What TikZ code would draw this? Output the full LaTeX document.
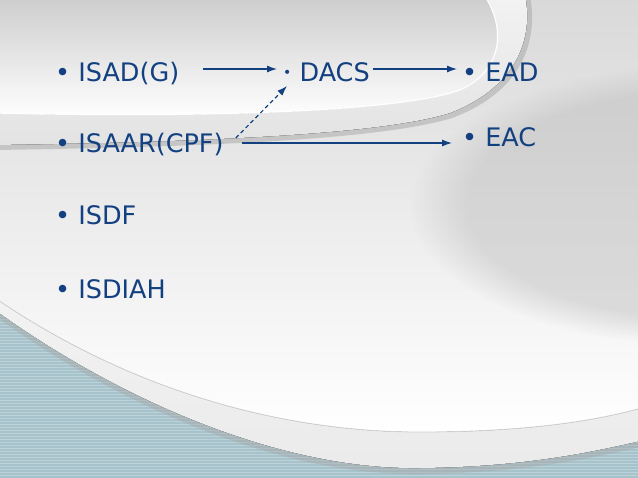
\documentclass[tikz,border=0pt]{standalone}
\usepackage{fontspec}
\setmainfont{DejaVu Sans}
\usetikzlibrary{arrows.meta,positioning,fadings}
\definecolor{itemblue}{RGB}{18,64,128}
\definecolor{stripeblue}{RGB}{166,194,202}
\definecolor{stripelight}{RGB}{188,210,216}
\tikzset{
  item/.style={anchor=base west,inner sep=0pt,text=itemblue,font=\fontsize{25.5}{30}\selectfont},
  link/.style={draw=itemblue,line width=1.2pt,-{Latex[length=10pt,width=7pt]}},
}

\begin{document}
\begin{tikzpicture}[x=1pt,y=-1pt]
    \useasboundingbox (0,0) rectangle (638,478);
    \fill[top color=gray!30,bottom color=gray!46] (0,0) rectangle (638,478);
    \fill[stripeblue] (0,280) rectangle (638,478);
    \foreach \y in {281,284,...,478}
      \draw[stripelight,line width=1pt] (0,\y) -- (638,\y);

    % lower plate
    \fill[gray!70,opacity=.45] (-5,316) .. controls (120,406) and (280,476) .. (420,474)
      .. controls (530,473) and (600,456) .. (645,446) -- (645,-5) -- (-5,-5) -- cycle;
    \fill[top color=white,bottom color=gray!16] (-5,310) .. controls (120,400) and (280,470) .. (420,468)
      .. controls (530,467) and (600,450) .. (645,440) -- (645,-5) -- (-5,-5) -- cycle;
    \fill[top color=gray!30,bottom color=white] (-5,298) .. controls (130,390) and (280,432) .. (420,432)
      .. controls (530,432) and (600,420) .. (645,407) -- (645,-5) -- (-5,-5) -- cycle;
    \draw[gray!35,line width=.8pt] (-5,298) .. controls (130,390) and (280,432) .. (420,432)
      .. controls (530,432) and (600,420) .. (645,407);
    \fill[gray!65,opacity=.35,path fading=circle with fuzzy edge 20 percent] (700,205) ellipse (290 and 140);

    % upper plate
    \fill[gray!70,opacity=.5] (-5,-5) -- (-5,150) .. controls (200,147) and (380,140) .. (452,118)
      .. controls (514,95) and (540,50) .. (530,-5) -- cycle;
    \fill[top color=gray!10,bottom color=gray!22] (-5,-5) -- (-5,145) .. controls (200,142) and (380,135) .. (450,113)
      .. controls (510,90) and (535,45) .. (525,-5) -- cycle;
    \fill[top color=gray!40,bottom color=white] (-5,-5) -- (-5,113) .. controls (200,118) and (400,112) .. (460,90)
      .. controls (505,70) and (505,25) .. (484,-5) -- cycle;
    \draw[white,line width=1.2pt] (-5,113) .. controls (200,118) and (400,112) .. (460,90)
      .. controls (505,70) and (505,25) .. (484,-5);

    \node[item] (isad) at (55,82) {• ISAD(G)};
    \node[item] (isaar) at (55,153) {• ISAAR(CPF)};
    \node[item] (isdf) at (55,225) {• ISDF};
    \node[item] (isdiah) at (55,299) {• ISDIAH};
    \node[item] (dacs) at (283,82) {\raisebox{4pt}{\fontsize{14}{14}\selectfont •} DACS};
    \node[item] (ead) at (462,82) {• EAD};
    \node[item] (eac) at (462,147) {• EAC};

    \draw[link,shorten <=24pt,shorten >=6pt] ([yshift=13pt]isad.base east) -- ([yshift=13pt]dacs.base west);
    \draw[link,shorten <=3pt,shorten >=5pt] ([yshift=13pt]dacs.base east) -- ([yshift=13pt]ead.base west);
    \draw[link,shorten <=18pt,shorten >=10pt] ([yshift=10pt]isaar.base east) -- ([yshift=4pt]eac.base west);
    \draw[link,dash pattern=on 4pt off 3pt] ([xshift=12pt,yshift=15pt]isaar.base east) -- ([xshift=4pt,yshift=-4pt]dacs.base west);
\end{tikzpicture}
\end{document}
